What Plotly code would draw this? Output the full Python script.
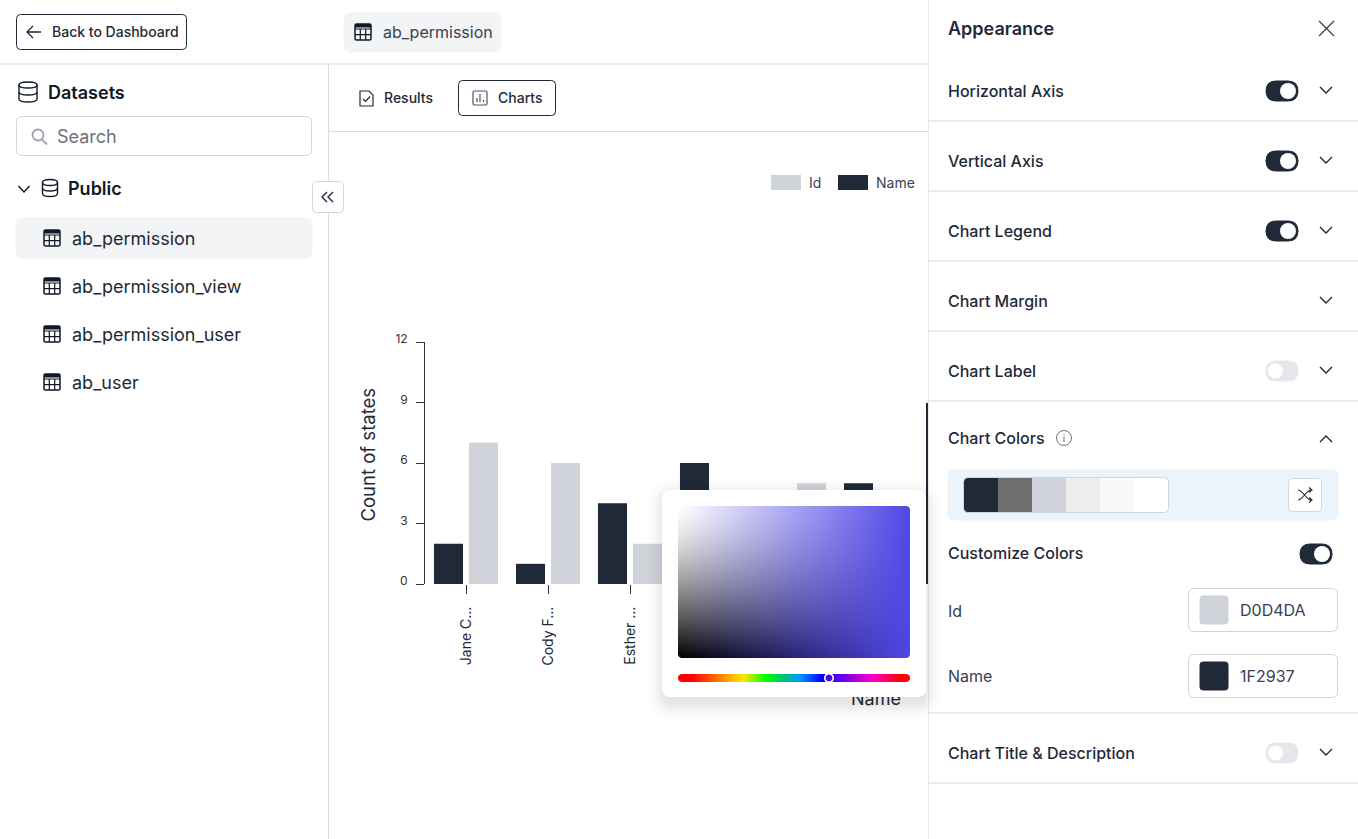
import base64
import struct
import zlib

import numpy as np
import plotly.graph_objects as go

# chart values, the three hidden bars sit behind the colour picker and are estimates
names = ["Jane C...", "Cody F...", "Esther ...", "", "", ""]
name_values = [2, 1, 4, 6, 3, 5]
id_values = [7, 6, 2, 3, 5, 2]
y_ticks = [0, 3, 6, 9, 12]

DARK = "#1F2937"
LIGHT = "#D0D4DA"
BORDER = "#D1D5DB"
FONT = "Inter"

palette = ["#1F2937", "#6F6F6F", "#D0D4DA", "#EEEEEE", "#F9F9F9", "#FFFFFF"]
tables = ["ab_permission", "ab_permission_view", "ab_permission_user", "ab_user"]
table_rows = [238, 286, 334, 382]
section_rows = [
    ("Horizontal Axis", 91, True),
    ("Vertical Axis", 161, True),
    ("Chart Legend", 231, True),
    ("Chart Margin", 301, None),
    ("Chart Label", 371, False),
    ("Chart Title & Description", 753, False),
]
panel_dividers = [121, 191, 261, 331, 401, 713, 783]
# hue strip colours as they appear in the picker
hue_stops = [0, 0.06, 0.28, 0.38, 0.46, 0.52, 0.62, 0.84, 0.96, 1]
hue_red = [255, 255, 255, 0, 0, 0, 0, 255, 255, 255]
hue_green = [0, 0, 230, 255, 190, 160, 0, 0, 0, 0]
hue_blue = [0, 0, 0, 0, 120, 255, 255, 200, 0, 0]

shapes = []
annotations = []


def rrect_path(x0, y0, x1, y1, r):
    return (
        f"M{x0 + r},{y0} L{x1 - r},{y0} Q{x1},{y0} {x1},{y0 + r} L{x1},{y1 - r} "
        f"Q{x1},{y1} {x1 - r},{y1} L{x0 + r},{y1} Q{x0},{y1} {x0},{y1 - r} "
        f"L{x0},{y0 + r} Q{x0},{y0} {x0 + r},{y0} Z"
    )


def add_path(path, line=DARK, width=1.4, fill="rgba(0,0,0,0)"):
    shapes.append(dict(
        type="path", path=path, xref="x", yref="y", layer="below",
        fillcolor=fill, line=dict(color=line, width=width),
    ))


def add_box(x0, y0, x1, y1, r=0, fill="#FFFFFF", line=BORDER, width=1):
    add_path(rrect_path(x0, y0, x1, y1, r), line=line, width=width, fill=fill)


def add_rect(x0, y0, x1, y1, fill):
    shapes.append(dict(
        type="rect", x0=x0, y0=y0, x1=x1, y1=y1, xref="x", yref="y", layer="below",
        fillcolor=fill, line=dict(width=0),
    ))


def add_circle(cx, cy, r, fill="rgba(0,0,0,0)", line=DARK, width=1.3):
    shapes.append(dict(
        type="circle", x0=cx - r, y0=cy - r, x1=cx + r, y1=cy + r, xref="x", yref="y",
        layer="below", fillcolor=fill, line=dict(color=line, width=width),
    ))


def add_text(x, y, text, size=16, color=DARK, weight=400, anchor="left", angle=0):
    annotations.append(dict(
        x=x - 1 if anchor == "left" else x, y=y, text=text, xref="x", yref="y",
        xanchor=anchor, yanchor="middle",
        showarrow=False, borderpad=0, textangle=angle,
        font=dict(family=FONT, size=size, color=color, weight=weight),
    ))


def table_icon(cx, cy):
    add_box(cx - 8, cy - 8, cx + 8, cy + 8, r=1.5, fill="rgba(0,0,0,0)", line="#111827", width=1.5)
    add_rect(cx - 8, cy - 8, cx + 8, cy - 4.5, "#111827")
    add_path(f"M{cx - 8},{cy + 2.7} L{cx + 8},{cy + 2.7} M{cx - 2.7},{cy - 3} L{cx - 2.7},{cy + 8} "
             f"M{cx + 2.7},{cy - 3} L{cx + 2.7},{cy + 8} M{cx - 8},{cy - 3} L{cx + 8},{cy - 3}",
             line="#111827", width=1.2)


def db_icon(cx, cy, w=8, h=9):
    c = "#111827"
    add_path(f"M{cx - w},{cy - h + 3} C{cx - w},{cy - h - 1} {cx + w},{cy - h - 1} {cx + w},{cy - h + 3} "
             f"C{cx + w},{cy - h + 7} {cx - w},{cy - h + 7} {cx - w},{cy - h + 3} Z", line=c)
    add_path(f"M{cx - w},{cy - h + 3} L{cx - w},{cy + h - 3} C{cx - w},{cy + h + 1} {cx + w},{cy + h + 1} "
             f"{cx + w},{cy + h - 3} L{cx + w},{cy - h + 3}", line=c)
    add_path(f"M{cx - w},{cy} C{cx - w},{cy + 4} {cx + w},{cy + 4} {cx + w},{cy}", line=c)


def chevron(cx, cy, up=False, s=6, color=DARK):
    d = -3 if up else 3
    add_path(f"M{cx - s},{cy - d} L{cx},{cy + d} L{cx + s},{cy - d}", line=color, width=1.4)


def toggle(x0, cy, on):
    add_box(x0, cy - 10, x0 + 32, cy + 10, r=10, fill=DARK if on else "#E5E7EB",
            line=DARK if on else "#E5E7EB")
    add_circle(x0 + 22 if on else x0 + 9.5, cy, 8 if on else 7.5, fill="#FFFFFF", line="#FFFFFF", width=0)


def popover_image():
    # colour picker popover as an RGBA picture with its soft shadow, laid over the bars
    x0, y0, w, h = 632, 460, 324, 277
    xs = np.arange(w) + x0 + 0.5
    ys = np.arange(h) + y0 + 0.5
    xx, yy = np.meshgrid(xs, ys)

    def box_sdf(bx0, by0, bx1, by1, r):
        cx, cy = (bx0 + bx1) / 2, (by0 + by1) / 2
        qx = np.abs(xx - cx) - ((bx1 - bx0) / 2 - r)
        qy = np.abs(yy - cy) - ((by1 - by0) / 2 - r)
        return np.hypot(np.maximum(qx, 0), np.maximum(qy, 0)) + np.minimum(np.maximum(qx, qy), 0) - r

    def cover(sdf):
        return np.clip(0.5 - sdf, 0, 1)[..., None]

    # shadow first, the card is composited on it so the card edge stays clean
    shadow = np.clip(1 - np.maximum(box_sdf(664, 496, 924, 703, 8), 0) / 22, 0, 1) ** 2 * 0.10
    pop = cover(box_sdf(662, 490, 926, 697, 8))
    alpha = pop[..., 0] + (1 - pop[..., 0]) * shadow
    level = np.where(alpha > 0, 255 * pop[..., 0] / np.maximum(alpha, 1e-6), 0)
    rgb = np.dstack([level, level, level])

    # saturation and value square
    u = np.clip((xx - 678) / 232, 0, 1)[..., None]
    v = np.clip((yy - 506) / 152, 0, 1)[..., None]
    base = np.array([79.0, 70.0, 229.0])
    left = 255 * (1 - v ** 1.4)
    square = left * (1 - u) + base * u
    mask = cover(box_sdf(678, 506, 910, 658, 4))
    rgb = rgb * (1 - mask) + square * mask

    # hue strip
    hue = np.clip((xx - 678) / 232, 0, 1)
    hue_rgb = np.stack([
        np.interp(hue, hue_stops, hue_red),
        np.interp(hue, hue_stops, hue_green),
        np.interp(hue, hue_stops, hue_blue),
    ], axis=-1)
    mask = cover(box_sdf(678, 674, 910, 682, 4))
    rgb = rgb * (1 - mask) + hue_rgb * mask

    # hue knob
    dist = np.hypot(xx - 829, yy - 678)
    mask = cover(dist - 5)
    rgb = rgb * (1 - mask) + 255 * mask
    mask = cover(dist - 3.4)
    rgb = rgb * (1 - mask) + np.array([64.0, 16.0, 230.0]) * mask

    pixels = np.dstack([rgb, alpha * 255]).round().astype(np.uint8)
    raw = b"".join(b"\x00" + row.tobytes() for row in pixels)

    def chunk(tag, data):
        return struct.pack(">I", len(data)) + tag + data + struct.pack(">I", zlib.crc32(tag + data))

    png = b"\x89PNG\r\n\x1a\n" + chunk(b"IHDR", struct.pack(">IIBBBBB", w, h, 8, 6, 0, 0, 0))
    png += chunk(b"IDAT", zlib.compress(raw, 9)) + chunk(b"IEND", b"")
    source = "data:image/png;base64," + base64.b64encode(png).decode()
    return dict(source=source, xref="x", yref="y", x=x0, y=y0, sizex=w, sizey=h,
                xanchor="left", yanchor="top", sizing="stretch", layer="above")


# page frame
add_rect(0, 63.5, 928, 64.5, "#D8DBE0")
add_rect(328, 64, 329, 839, "#D8DBE0")
add_rect(329, 131, 928, 132, "#D8DBE0")
add_rect(928, 0, 929, 839, "#E5E7EB")
add_rect(926, 403, 928, 584, DARK)
for y in panel_dividers:
    add_rect(929, y - 0.5, 1358, y + 0.5, "#D8DBE0")

# top bar
add_box(16.5, 14.5, 186.5, 49.5, r=4, line=DARK)
add_path("M41,32 L27,32 M33,26 L27,32 L33,38", width=1.3)
add_text(52, 31.5, "Back to Dashboard", size=14, weight=500)
add_box(344, 13, 501, 52, r=7, fill="#F3F4F6", line="#F3F4F6")
table_icon(363, 32)
add_text(383, 32, "ab_permission", size=16, color="#374151")

# sidebar
db_icon(28, 92, w=9, h=10)
add_text(48, 92, "Datasets", size=18, color="#111827", weight=600)
add_box(16.5, 116.5, 311.5, 155.5, r=6)
add_circle(38, 135, 5.5, line="#9CA3AF", width=1.8)
add_path("M42,139.5 L47,144.5", line="#9CA3AF", width=1.8)
add_text(57, 136, "Search", size=18, color="#6B7280")
chevron(24, 189, s=5.5, color="#111827")
db_icon(50, 188, w=7.5, h=8.5)
add_text(68, 188, "Public", size=18, color="#111827", weight=600)
add_box(16, 218, 312, 258, r=6, fill="#F3F4F6", line="#F3F4F6")
for table, y in zip(tables, table_rows):
    table_icon(52, y)
    add_text(72, y, table, size=18, color="#1F2937")
add_box(312.5, 181.5, 343.5, 212.5, r=5)
add_path("M327,192 L322,197 L327,202 M333,192 L328,197 L333,202", width=1.4)

# tabs
add_path("M360,91 L369,91 L373,95 L373,106 L360,106 Z", width=1.2)
add_path("M363,99 L365.5,101.5 L370,96.5", width=1.2)
add_text(384, 97.5, "Results", size=14, weight=500)
add_box(458.5, 80.5, 555.5, 115.5, r=4, line=DARK)
add_box(473, 91, 487, 105, r=1.5, fill="rgba(0,0,0,0)", line="#4B5563", width=1.2)
add_path("M477,102 L477,98 M480,102 L480,94 M483.5,102 L483.5,100", line="#4B5563", width=1.2)
add_text(498, 97.5, "Charts", size=14, weight=500)

# chart legend and axis title
add_rect(771, 175, 801, 190, LIGHT)
add_text(809, 182.5, "Id", size=14, color="#374151")
add_rect(838, 175, 868, 190, DARK)
add_text(876, 182.5, "Name", size=14, color="#374151")
add_text(367, 454.5, "Count of states", size=18.5, color="#1F2937", anchor="center", angle=-90)

# appearance panel
add_text(948, 28, "Appearance", size=18, weight=600)
add_path("M1319,21 L1334,36 M1334,21 L1319,36", line="#374151", width=1.3)
for label, y, state in section_rows:
    add_text(948, y - 0.5, label, size=16, weight=500)
    chevron(1326, y - 1)
    if state is not None:
        toggle(1266, y, state)

add_text(948, 438, "Chart Colors", size=16, weight=500)
add_circle(1064, 438, 7.5, line="#6B7280", width=1)
add_rect(1063.5, 436.5, 1064.5, 442, "#6B7280")
add_rect(1063.5, 434, 1064.5, 435, "#6B7280")
chevron(1326, 439, up=True)
add_box(948, 470, 1338, 520, r=6, fill="#EBF4FB", line="#EBF4FB")
add_box(964, 478, 990, 512.5, r=4, fill=palette[0], line=palette[0], width=0)
add_box(1140, 478, 1168, 512.5, r=4, fill=palette[5], line=palette[5], width=0)
for i, colour in enumerate(palette):
    left_edge = 970 if i == 0 else 964 + i * 34
    right_edge = 1162 if i == 5 else 998 + i * 34
    add_rect(left_edge, 478, right_edge, 512.5, colour)
add_box(963.5, 477.5, 1168.5, 512.5, r=4, fill="rgba(0,0,0,0)", line=BORDER)
add_box(1288.5, 478.5, 1321.5, 511.5, r=4)
add_path("M1298,490 C1303,490 1306,500 1311,500 M1298,500 C1303,500 1306,490 1311,490 "
         "M1309,487.5 L1312,490 L1309,492.5 M1309,497.5 L1312,500 L1309,502.5", width=1.1)
add_text(948, 553, "Customize Colors", size=16, weight=500)
toggle(1300, 554, True)
add_text(948, 611, "Id", size=16, color="#374151")
add_box(1188.5, 588.5, 1337.5, 631.5, r=6)
add_box(1200, 596, 1228, 624, r=3, fill=LIGHT, line=LIGHT)
add_text(1240, 610, "D0D4DA", size=16, color="#374151")
add_text(948, 676, "Name", size=16, color="#374151")
add_box(1188.5, 654.5, 1337.5, 697.5, r=6)
add_box(1200, 662, 1228, 690, r=3, fill=DARK, line=DARK)
add_text(1240, 676, "1F2937", size=16, color="#374151")

fig = go.Figure()
positions = list(range(len(names)))
# x axis title goes in as a text trace so that the picker can sit on top of it
fig.add_trace(go.Scatter(
    x=[876], y=[700], mode="text", text=["Name"], cliponaxis=False, hoverinfo="skip",
    textfont=dict(family=FONT, size=18, color=DARK), xaxis="x", yaxis="y", showlegend=False,
))
fig.add_trace(go.Bar(x=positions, y=name_values, name="Name", marker=dict(color=DARK, line_width=0),
                     xaxis="x2", yaxis="y2"))
fig.add_trace(go.Bar(x=positions, y=id_values, name="Id", marker=dict(color=LIGHT, line_width=0),
                     xaxis="x2", yaxis="y2"))

fig.update_layout(
    template="none",
    width=1358,
    height=839,
    margin=dict(l=0, r=0, t=0, b=0),
    paper_bgcolor="#FFFFFF",
    plot_bgcolor="rgba(0,0,0,0)",
    showlegend=False,
    barmode="group",
    bargap=0.146,
    bargroupgap=0.171,
    shapes=shapes,
    annotations=annotations,
    images=[popover_image()],
    font=dict(family=FONT),
    # full-page axes in pixels, used for the interface around the chart
    xaxis=dict(domain=[0, 1], range=[0, 1358], visible=False, fixedrange=True, automargin=False),
    yaxis=dict(domain=[0, 1], range=[839, 0], visible=False, fixedrange=True, automargin=False),
    xaxis2=dict(
        domain=[425 / 1358, 917 / 1358], anchor="y2", range=[-0.5, 5.5], automargin=False,
        tickmode="array", tickvals=positions, ticktext=names, tickangle=-90,
        ticks="outside", ticklen=9, tickcolor="#333333", showline=False, showgrid=False,
        zeroline=False, tickfont=dict(family=FONT, size=14, color="#1F2937"), ticklabelstandoff=7,
    ),
    yaxis2=dict(
        domain=[(839 - 584) / 839, (839 - 342) / 839], anchor="x2", range=[0, 12], automargin=False,
        tickmode="array", tickvals=y_ticks, ticks="outside", ticklen=8, tickcolor="#333333",
        showline=True, linecolor="#333333", linewidth=1, showgrid=False, zeroline=False,
        tickfont=dict(family=FONT, size=12, color="#333333"), ticklabelstandoff=6, ticklabelshift=-3,
    ),
)

fig.write_html(
    "out.html",
    config={"displayModeBar": False},
    post_script="document.body.style.margin='0';document.body.style.overflow='hidden';",
)
